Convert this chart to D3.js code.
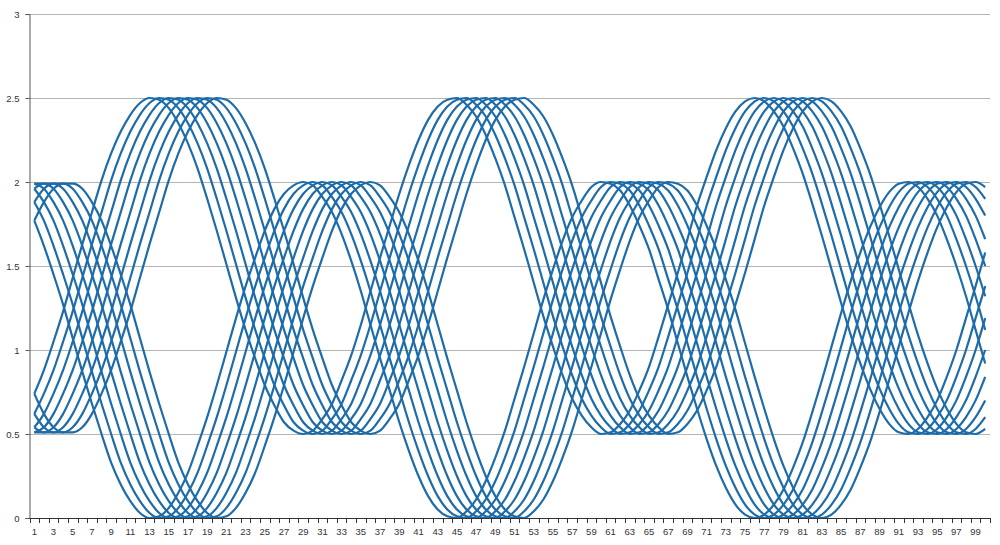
<!DOCTYPE html>
<html>
<head>
<meta charset="utf-8">
<script src="https://cdn.jsdelivr.net/npm/d3@7"></script>
<style>
html,body{margin:0;padding:0;background:#fff;}
svg{display:block;}
text{font-family:"Liberation Sans",Arial,sans-serif;}
</style>
</head>
<body>
<svg id="chart" width="1000" height="545"></svg>
<script>
// Categories shown on the x axis (1..100)
const categories = Array.from({length: 100}, (_, i) => i + 1);
const xTickLabels = categories.filter(c => c % 2 === 1);
const yTicks = [0, 0.5, 1, 1.5, 2, 2.5, 3];
const yTickLabels = ["0", "0.5", "1", "1.5", "2", "2.5", "3"];

// Wave A (oscillates 0..2); each of the 8 lines is this wave
// starting one category later.
const waveA = [1.77,1.88,1.96,1.99,1.99,1.96,1.88,1.77,1.62,1.45,1.27,1.07,0.87,0.68,0.50,0.33,0.20,0.10,0.03,0.00,
  0.01,0.06,0.15,0.27,0.43,0.60,0.79,0.99,1.19,1.38,1.55,1.71,1.84,1.93,1.98,2.00,1.98,1.91,1.82,1.69,
  1.53,1.35,1.15,0.95,0.76,0.57,0.40,0.25,0.13,0.05,0.01,0.00,0.04,0.11,0.22,0.36,0.52,0.71,0.90,1.10,
  1.30,1.48,1.65,1.79,1.89,1.97,2.00,1.99,1.95,1.86,1.74,1.60,1.42,1.24,1.04,0.84,0.65,0.47,0.31,0.18,
  0.08,0.02,0.00,0.02,0.08,0.17,0.30,0.45,0.63,0.82,1.02,1.22,1.41,1.58,1.73,1.85,1.94,1.99,2.00,1.97,
  1.90,1.80,1.66,1.50,1.32,1.12,0.92];

// Wave B (oscillates 0.5..2.5), in antiphase with wave A
const waveB = [0.74,0.62,0.54,0.51,0.51,0.54,0.62,0.74,0.88,1.05,1.23,1.43,1.63,1.82,2.01,2.17,2.30,2.40,2.47,2.50,
  2.49,2.44,2.35,2.23,2.08,1.90,1.71,1.51,1.31,1.12,0.95,0.79,0.67,0.57,0.52,0.50,0.52,0.59,0.68,0.82,
  0.97,1.15,1.35,1.55,1.74,1.93,2.10,2.25,2.37,2.45,2.49,2.50,2.46,2.39,2.28,2.14,1.98,1.79,1.60,1.40,
  1.20,1.02,0.85,0.71,0.61,0.54,0.50,0.51,0.56,0.64,0.76,0.90,1.08,1.27,1.46,1.66,1.86,2.03,2.19,2.32,
  2.42,2.48,2.50,2.48,2.42,2.33,2.20,2.05,1.87,1.68,1.48,1.28,1.09,0.92,0.77,0.65,0.56,0.51,0.50,0.53,
  0.60,0.70,0.84,1.00,1.19,1.38,1.58];

// Starting offsets (in categories) of the 8 copies
const lineOffsets = [0, 1, 2, 3, 4, 5, 6, 7];

const series = [];
lineOffsets.forEach(o => series.push(categories.map((c, i) => ({cat: c, v: waveA[i + o]}))));
lineOffsets.forEach(o => series.push(categories.map((c, i) => ({cat: c, v: waveB[i + o]}))));

const svg = d3.select("#chart");
const padL = 29.5, padR = 990, padT = 14, padB = 518;

const x = d3.scaleBand().domain(categories).range([padL, padR]);
const y = d3.scaleLinear().domain([0, 3]).range([padB, padT]);

// gridlines
svg.append("g").selectAll("line").data(yTicks.filter(t => t > 0)).join("line")
  .attr("x1", padL).attr("x2", padR)
  .attr("y1", d => Math.round(y(d)) + 0.5).attr("y2", d => Math.round(y(d)) + 0.5)
  .attr("stroke", "#b4b4b4").attr("stroke-width", 1);

// lines
const line = d3.line().x(d => x(d.cat) + x.bandwidth() / 2).y(d => y(d.v)).curve(d3.curveMonotoneX);
svg.append("g").selectAll("path").data(series).join("path")
  .attr("d", line).attr("fill", "none")
  .attr("stroke", "#1d6ca9").attr("stroke-width", 2.2);

// y axis
const yAxis = d3.axisLeft(y).tickValues(yTicks).tickFormat((d, i) => yTickLabels[i]).tickSize(4).tickPadding(6);
const gy = svg.append("g").attr("transform", `translate(${padL},0)`).call(yAxis);
gy.select(".domain").attr("stroke", "#555");
gy.selectAll(".tick line").attr("stroke", "#555");
gy.selectAll(".tick text").attr("font-size", "9.5px").attr("fill", "#333").attr("font-family", "'Liberation Sans', Arial, sans-serif");

// x axis
const gx = svg.append("g").attr("transform", `translate(0,${padB})`);
gx.append("line").attr("x1", padL).attr("x2", padR).attr("y1", 0.5).attr("y2", 0.5).attr("stroke", "#333");
const bounds = categories.map(c => x(c)).concat([padR]);
gx.selectAll("line.tk").data(bounds).join("line").attr("class", "tk")
  .attr("x1", d => Math.round(d) + 0.5).attr("x2", d => Math.round(d) + 0.5)
  .attr("y1", 0).attr("y2", 5).attr("stroke", "#333");
gx.selectAll("text").data(xTickLabels).join("text")
  .attr("x", d => x(d) + x.bandwidth() / 2).attr("y", 17)
  .attr("text-anchor", "middle").attr("font-size", "9.5px").attr("fill", "#333")
  .text(d => d);
</script>
</body>
</html>
